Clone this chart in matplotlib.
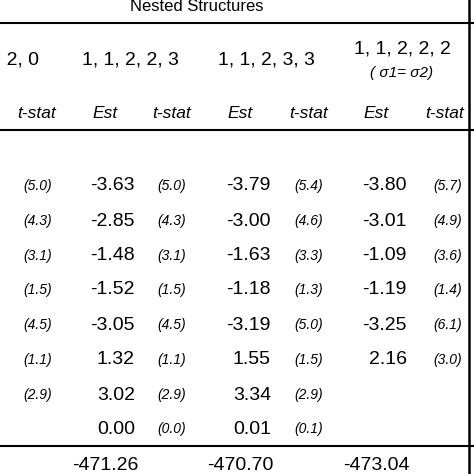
import matplotlib
matplotlib.use("Agg")
import matplotlib.pyplot as plt

H = 474.0

models = ["1, 1, 2, 2, 3", "1, 1, 2, 3, 3", "1, 1, 2, 2, 2"]
t_prev = ["(5.0)", "(4.3)", "(3.1)", "(1.5)", "(4.5)", "(1.1)", "(2.9)", ""]
est1 = ["-3.63", "-2.85", "-1.48", "-1.52", "-3.05", "1.32", "3.02", "0.00"]
t1 = ["(5.0)", "(4.3)", "(3.1)", "(1.5)", "(4.5)", "(1.1)", "(2.9)", "(0.0)"]
est2 = ["-3.79", "-3.00", "-1.63", "-1.18", "-3.19", "1.55", "3.34", "0.01"]
t2 = ["(5.4)", "(4.6)", "(3.3)", "(1.3)", "(5.0)", "(1.5)", "(2.9)", "(0.1)"]
est3 = ["-3.80", "-3.01", "-1.09", "-1.19", "-3.25", "2.16", "", ""]
t3 = ["(5.7)", "(4.9)", "(3.6)", "(1.4)", "(6.1)", "(3.0)", "", ""]
loglik = ["-471.26", "-470.70", "-473.04"]

fig = plt.figure(figsize=(4.74, 4.74), dpi=100)
fig.patch.set_facecolor("white")
ax = fig.add_axes([0, 0, 1, 1])
ax.set_xlim(0, 474)
ax.set_ylim(H, 0)
ax.axis("off")

font = "Liberation Sans"
def txt(x, y, s, size=14, ha="center", style="normal"):
    ax.text(x, y, s, ha=ha, va="center", fontsize=size, fontstyle=style, family=font)

# rules
ax.plot([0, 474], [23, 23], color="black", lw=1.5)
ax.plot([0, 474], [130, 130], color="black", lw=1.5)
ax.plot([0, 474], [446, 446], color="black", lw=1.5)
ax.plot([469, 469], [0, 474], color="black", lw=1.8)

txt(197, 6, "Nested Structures", size=12)
txt(39, 60, ", 2, 0", ha="right")
txt(130, 60, models[0])
txt(266, 60, models[1])
txt(402, 49, models[2])
txt(402, 73, "( σ1= σ2)", size=11, style="italic")

heads = [(37, "t-stat"), (105, "Est"), (172, "t-stat"), (240, "Est"),
         (309, "t-stat"), (376, "Est"), (445, "t-stat")]
for x, s in heads:
    txt(x, 113, s, size=12.5, style="italic")

rows_y = [186, 221, 256, 290, 325, 360, 395, 429]
for i, y in enumerate(rows_y):
    txt(38, y, t_prev[i], size=10, style="italic")
    txt(135, y, est1[i], ha="right")
    txt(172, y, t1[i], size=10, style="italic")
    txt(271, y, est2[i], ha="right")
    txt(309, y, t2[i], size=10, style="italic")
    txt(407, y, est3[i], ha="right")
    txt(448, y, t3[i], size=10, style="italic")

for x, s in zip([105, 240, 376], loglik):
    txt(x, 465, s)

fig.savefig("out.png", dpi=100)
